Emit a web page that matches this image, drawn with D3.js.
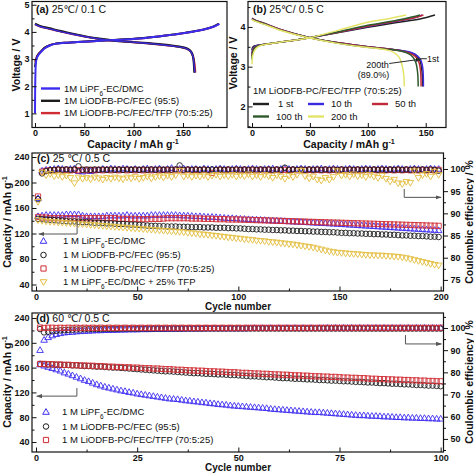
<!DOCTYPE html>
<html>
<head>
<meta charset="utf-8">
<script src="https://cdn.jsdelivr.net/npm/d3@7"></script>
<style>
  body { margin: 0; background: #fff; }
  svg text { font-family: Arial, "Liberation Sans", "DejaVu Sans", sans-serif; fill: #111; }
</style>
</head>
<body>
<svg id="fig" width="474" height="474"></svg>
<script>
// ---------- (a) 25 ℃ / 0.1 C, first cycle : [capacity, voltage]
const aLiPF6Charge = [[0,1.0],[0.4,2.4],[1,2.9],[2,3.05],[4,3.18],[7,3.3],[10,3.4],[15,3.5],[20,3.56],[30,3.6],[40,3.62],[50,3.64],[65,3.67],[80,3.7],[100,3.74],[115,3.79],[125,3.83],[140,3.9],[150,3.95],[160,4.01],[170,4.08],[180,4.18],[187,4.3]];
const aLiPF6Discharge = [[0,4.28],[5,4.2],[15,4.11],[25,4.02],[35,3.94],[50,3.83],[65,3.74],[80,3.67],[100,3.62],[125,3.54],[140,3.48],[150,3.42],[155,3.36],[158,3.27],[160,3.12],[161,2.88],[162,2.5]];
const aOdfbCharge = [[0,2.7],[1,2.95],[2,3.08],[4,3.2],[7,3.32],[10,3.42],[15,3.51],[20,3.56],[30,3.6],[40,3.62],[50,3.645],[65,3.675],[80,3.705],[100,3.745],[115,3.795],[125,3.835],[140,3.905],[150,3.955],[160,4.015],[170,4.085],[180,4.185],[186,4.3]];
const aOdfbDischarge = [[0,4.3],[5,4.22],[15,4.13],[25,4.04],[35,3.96],[50,3.84],[65,3.75],[80,3.68],[100,3.62],[125,3.55],[140,3.49],[150,3.43],[155,3.37],[158,3.28],[160,3.12],[161,2.85],[161.5,2.5]];
const aTfpCharge = [[0,2.9],[1,3.0],[2,3.1],[4,3.21],[7,3.32],[10,3.42],[15,3.51],[20,3.56],[30,3.6],[40,3.62],[50,3.64],[65,3.67],[80,3.7],[100,3.74],[115,3.79],[125,3.83],[140,3.9],[150,3.95],[160,4.01],[170,4.08],[180,4.18],[186.5,4.3]];
const aTfpDischarge = [[0,4.28],[5,4.2],[15,4.11],[25,4.02],[35,3.94],[50,3.83],[65,3.74],[80,3.67],[100,3.62],[125,3.54],[140,3.48],[150,3.42],[155,3.36],[158,3.27],[160,3.12],[161.5,2.88],[162.5,2.5]];
const aLegend = ['1M LiPF_{6}-EC/DMC', '1M LiODFB-PC/FEC (95:5)', '1M LiODFB-PC/FEC/TFP (70:5:25)'];

// ---------- (b) 25 ℃ / 0.5 C, LiODFB-PC/FEC/TFP
const b1stCharge = [[0,3.42],[0.5,3.48],[2,3.52],[5,3.54],[10,3.56],[25,3.62],[50,3.73],[75,3.86],[100,3.99],[125,4.11],[145,4.2],[158,4.3]];
const b1stDischarge = [[0,4.22],[3,4.17],[10,4.1],[25,3.93],[50,3.73],[75,3.6],[100,3.5],[120,3.44],[130,3.4],[137,3.35],[142,3.27],[145,3.15],[146.5,2.95],[147.5,2.5]];
const b10thCharge = [[0,3.32],[0.5,3.44],[2,3.5],[5,3.54],[10,3.56],[25,3.62],[50,3.73],[75,3.87],[100,4.01],[125,4.14],[140,4.23],[147,4.3]];
const b10thDischarge = [[0,4.2],[3,4.16],[10,4.09],[25,3.93],[50,3.73],[75,3.6],[100,3.5],[120,3.44],[130,3.4],[138,3.35],[143,3.27],[146,3.15],[147.5,2.95],[148,2.5]];
const b50thCharge = [[0,3.26],[0.5,3.4],[2,3.48],[5,3.53],[10,3.56],[25,3.62],[50,3.73],[75,3.87],[100,4.02],[125,4.15],[140,4.23],[148,4.3]];
const b50thDischarge = [[0,4.2],[3,4.16],[10,4.09],[25,3.93],[50,3.73],[75,3.6],[100,3.5],[120,3.44],[130,3.39],[136,3.34],[141,3.26],[144,3.12],[145.5,2.9],[146,2.5]];
const b100thCharge = [[0,3.18],[0.5,3.36],[2,3.46],[5,3.52],[10,3.56],[25,3.62],[50,3.73],[75,3.88],[100,4.04],[125,4.17],[138,4.25],[145,4.3]];
const b100thDischarge = [[0,4.19],[3,4.15],[10,4.08],[25,3.92],[50,3.73],[75,3.59],[100,3.49],[120,3.43],[130,3.38],[135,3.33],[139,3.24],[141.5,3.1],[143,2.85],[143.5,2.5]];
const b200thCharge = [[0,3.06],[0.5,3.25],[2,3.4],[5,3.5],[10,3.55],[25,3.62],[50,3.73],[75,3.92],[100,4.12],[120,4.22],[133,4.3]];
const b200thDischarge = [[0,4.18],[3,4.14],[10,4.07],[25,3.91],[50,3.72],[75,3.58],[95,3.5],[110,3.45],[118,3.41],[123,3.35],[127,3.24],[129.5,3.05],[131,2.8],[131.5,2.5]];
const bCycleLabels = ['1 st', '10 th', '50 th', '100 th', '200 th'];

// ---------- (c) 25 ℃ / 0.5 C cycling, every second cycle (1, 3, ... 199)
const cCycles = d3.range(1, 200, 2);
const cCapLiPF6 = [147,148,149,149,149,149,149,150,150,150, 150,148,147,147,147,147,147,148,148,148, 148,148,149,148,148,148,148,148,149,149, 149,149,149,149,149,148.5,148,148,147.5,147, 147,146.5,146,146,145.5,145,144.5,144,144,143.5, 143,142.7,142.3,142,141.7,141.3,141,140.7,140.3,140, 139.7,139.3,139,138.7,138.3,138,137.7,137.3,137,136.7, 136.3,136,135.7,135.3,135,134.6,134.2,133.8,133.4,133, 132.6,132.2,131.8,131.4,131,130.6,130.2,129.8,129.4,129, 128.6,128.2,127.8,127.4,127,126.6,126.2,125.8,125.4,125];
const cCapOdfb = [143,142.5,142,141.5,141,140.5,140,139.5,139,139, 138.5,138,138,137.5,137,137,136.5,136,136,135.5, 135,135,134.5,134,134,133.5,133,132.5,132,132, 131.5,131.5,131,131,131,130.5,130.5,130.5,130,130, 130,129.5,129.5,129.5,129,129,129,128.5,128.5,128, 128,127.5,127,127,126.5,126.5,126,126,125.5,125.5, 125,125,124.5,124.5,124,124,123.5,123.5,123,123, 122.5,122.5,122,122,121.5,121,121,120.5,120.5,120, 120,119.5,119.5,119,119,118.5,118.5,118,118,117.5, 117,117,116.5,116.5,116,116,115.5,115,115,114.5];
const cCapTfp = [146,145,145,144,144,144,144,144,144,144, 144,144,144,144,144,144,144,144,144,144, 143,143,143,143,143,142.5,142.5,142.5,143,143, 143,143.5,144,144,144,144,144,144,143.5,143.5, 143.5,143,143,143,142.5,142.5,142.5,142,142,142, 141.8,141.6,141.4,141.2,141,140.8,140.6,140.4,140.2,140, 139.8,139.6,139.4,139.2,139,138.8,138.6,138.4,138.2,138, 137.8,137.6,137.4,137.2,137,136.8,136.6,136.4,136.2,136, 135.8,135.6,135.4,135.2,135,134.8,134.6,134.4,134.2,134, 133.8,133.6,133.4,133.2,133,132.8,132.6,132.4,132.2,132];
const cCapLiPF6Tfp = [141,140,139,138.5,138,137.5,137,136.5,136,135.5, 135,134.5,134,133.5,133,132.5,132,131.5,131,130.5, 130,129.5,129,128.5,128,127.5,127,126.5,126,125.5, 125,124.5,124,123.5,123,122.5,122,121,120.5,120, 119,118.5,118,117,116.5,115.5,115,114,113.5,112.5, 112,111,110.5,110,109,108.5,108,107,106.5,106, 105,104.5,103.5,103,102,101,100,99,98,96.5, 95,93.5,92,91,90,89.5,89,88.5,88,87.5, 87,86.5,86,86,85.5,85.5,85,84.5,84,83.5, 82.5,81.5,80,78.5,77,75.5,74,72.5,71,70];
const cCeLiPF6 = [93.4,99.6,99.8,99.9,100,100.1,100,99.9,100,100.1, 99.5,99.4,99.6,99.5,99.7,99.8,100,99.9,100.1,100, 99.9,100.1,100,99.9,100,99.8,100,100.1,99.9,100, 100.1,99.9,100,100.2,99.9,100,100.1,99.9,100,100, 99.9,100.1,100,99.9,100,100.1,100,99.9,100,100.1, 100,99.9,100,100.1,100,99.9,100,100,100.1,99.9, 100,100.1,100,99.9,100,100.1,100,99.9,100,100, 100.1,99.9,100,100.1,100,99.9,100,100.1,100,99.9, 100,100.1,100,99.9,100,100.1,100,99.9,100,100.1, 100,99.9,100,100.1,100,99.9,100,100.1,100,100];
const cCeOdfb = [93.2,99,99.5,99.7,99.8,99.9,99.8,99.9,99.8,99.9, 100.6,99.8,99.9,99.8,99.9,99.8,99.9,99.8,99.9,99.8, 99.9,99.8,99.9,99.8,99.9,99.8,99.9,99.8,99.9,99.8, 99.9,99.8,99.9,99.8,99.9,100.8,99.8,99.9,99.8,99.9, 99.8,99.9,99.8,99.9,99.8,99.9,99.8,99.9,99.8,99.9, 99.8,99.9,99.8,99.9,99.8,99.9,99.8,99.9,99.8,99.9, 99.8,100.3,99.8,99.9,99.8,99.9,99.8,99.9,99.8,99.9, 99.8,99.9,99.8,99.9,99.8,99.9,99.8,99.9,99.8,99.9, 99.8,99.9,99.8,99.9,99.8,99.9,99.8,99.9,99.8,99.9, 99.8,99.9,99.8,99.9,99.8,99.9,99.8,99.9,99.8,99.6];
const cCeTfp = [93.8,99.4,99.6,99.7,99.7,99.8,99.7,99.8,99.7,99.8, 99.7,99.8,99.7,99.8,99.7,99.8,99.7,99.8,99.7,99.8, 99.7,99.8,99.7,99.8,99.7,99.8,99.7,99.8,99.7,99.8, 99.7,99.8,99.7,99.8,99.7,99.8,99.7,99.8,99.7,99.8, 99.7,99.8,99.7,99.1,99.7,99.8,99.7,99.8,99.7,99.8, 99.7,99.8,99.7,99.8,99.7,99.8,99.7,99.8,99.7,99.8, 99.7,99.8,99.7,99.8,99.7,99.8,99.7,99.8,99.7,99.8, 99.7,99.8,99.7,99.8,99.7,99.8,99.7,99.8,99.7,99.8, 99.7,99.8,99.7,99.8,99.7,99.8,99.7,99.8,99.7,99.8, 99.7,99.8,99.7,99.8,99.7,99.8,99.7,99.8,99.7,99.8];
const cCeLiPF6Tfp = [92.6,99.2,98.6,98.9,98.4,98.6,98.2,98.5,98,96.8, 98.1,97.8,98,97.7,98.1,97.9,97.6,98,97.8,98.1, 97.9,97.7,98.1,97.9,98.2,97.8,98,98.3,97.9,98.2, 98.4,98.1,98.5,98.2,98.6,99.6,98.3,98.6,98.2,98.5, 98.3,98.6,98.2,98.5,98.7,98.3,98.6,98.4,98.7,98.3, 98.6,98.4,98.8,98.3,98.6,98.2,98.7,98.4,98,98.6, 98.3,97.8,98.5,98.2,98.7,99.6,98.4,97.9,98.3,97.6, 97.4,98,97.6,98.2,99.5,98.5,98.7,98.3,98.8,98.4, 98.6,98.2,98.7,98.3,98,98.5,97.8,97.2,97.6,96.8, 96.6,97.1,96.9,99.5,98,98.6,98.9,98.3,99.4,98.7];
const cLegend = ['1 M LiPF_{6}-EC/DMC', '1 M LiODFB-PC/FEC (95:5)', '1 M LiODFB-PC/FEC/TFP (70:5:25)', '1 M LiPF_{6}-EC/DMC + 25% TFP'];

// ---------- (d) 60 ℃ / 0.5 C cycling, cycles 1 ... 100
const dCycles = d3.range(1, 101);
const dCapLiPF6 = [165,163,161,159,157,155,152,150,147.5,145, 142.5,140,138,135.5,133,131,129,127.5,126,124.5, 123,122,120.5,119.5,118,117,116,115,114,113, 112,111,110,109.5,109,108,107,106.5,105.5,105, 104,103.5,102.5,102,101,100.5,100,99,98.5,98, 97.5,97,96.5,96,95.5,95,94.5,93.5,93,92.5, 92,91.5,91,90.5,90,89.5,89,88.5,88,88, 87.5,87,86.5,86,85.5,85,84.5,84,83.5,83, 83,82.5,82,82,81.5,81,81,80.5,80,80, 79.5,79.5,79,79,78.5,78.5,78,78,77.5,77.5];
const dCapOdfb = [166,165.5,165,165,164.5,164.5,164,164,163.5,163.5, 163,162.5,162.5,162,161.5,161.5,161,160.5,160,160, 159.5,159,158.5,158,157.5,157,156.5,156,155.5,155, 154.5,154,154,153.5,153,152.5,152,151.5,151,151, 150.5,150,150,149.5,149,149,148.5,148,148,147.5, 147,146.5,146,146,145.5,145,144.5,144.5,144,143.5, 143,143,142.5,142,142,141.5,141,141,140.5,140, 140,139.5,139,139,138.5,138,138,137.5,137,137, 136.5,136,136,135.5,135,135,134.5,134,134,133.5, 133,133,132.5,132,132,131.5,131,131,130.5,130];
const dCapTfp = [166,166,165.5,165.5,165,165,164.5,164.5,164,164, 163.5,163.5,163,163,162.5,162.5,162,161.5,161.5,161, 161,160.5,160.5,160,160,159.5,159,159,158.5,158.5, 158,157.5,157.5,157,156.5,156.5,156,155.5,155.5,155, 155,154.5,154,154,153.5,153.5,153,152.5,152.5,152, 151.5,151.5,151,150.5,150.5,150,150,149.5,149,149, 148.5,148.5,148,147.5,147.5,147,147,146.5,146,146, 145.5,145.5,145,145,144.5,144,144,143.5,143.5,143, 143,142.5,142,142,141.5,141.5,141,141,140.5,140.5, 140,140,139.5,139.5,139,139,138.5,138.5,138,138];
const dCeLiPF6 = [90,94.6,95.8,96.6,97.2,97.6,97.9,98.1,98.2,98.4, 98.5,98.6,98.7,98.8,98.9,98.9,99,99,99.1,99.1, 99.2,99.2,99.3,99.3,99.3,99.4,99.4,99.4,99.5,99.5, 99.5,99.5,99.6,99.6,99.6,99.6,99.7,99.7,99.7,99.7, 99.7,99.8,99.8,99.8,99.8,99.8,99.8,99.8,99.8,99.8, 99.8,99.8,99.9,99.9,99.9,99.9,99.9,99.9,99.9,99.9, 99.9,99.9,99.9,99.9,99.9,99.9,99.9,99.9,99.9,99.9, 100,100,100,100,100,100,100,100,100,100, 100,100,100,100,100,100,100,100,100,100, 100,100,100,100,100,100,100,100,100,100];
const dCeOdfb = [99.5,98,98.3,98.5,98.7,98.9,99,99.1,99.2,99.3, 99.3,99.4,99.4,99.5,99.5,99.5,99.6,99.6,99.6,99.6, 99.7,99.7,99.7,99.7,99.7,99.7,99.7,99.7,99.7,99.7, 99.7,99.7,99.7,99.7,99.7,99.7,99.7,99.7,99.7,99.7, 99.7,99.7,99.7,99.7,99.7,99.7,99.7,99.7,99.7,99.7, 99.7,99.7,99.7,99.7,99.7,99.7,99.7,99.7,99.7,99.7, 99.7,99.7,99.7,99.7,99.7,99.7,99.7,99.7,99.7,99.7, 99.7,99.7,99.7,99.7,99.7,99.7,99.7,99.7,99.7,99.7, 99.7,99.7,99.7,99.7,99.7,99.7,99.7,99.7,99.7,99.7, 99.7,99.7,99.7,99.7,99.7,99.7,99.7,99.7,99.7,99.7];
const dCeTfp = [100.2,100,100.1,100.1,100,100.1,100,100.1,100,100.1, 100,100.1,100,100.1,100,100.1,100,100.1,100,100.1, 100,100.1,100,100.1,100,100.1,100,100.1,100,100.1, 100,100.1,100,100.1,100,100.1,100,100.1,100,100.1, 100,100.1,100,100.1,100,100.1,100,100.1,100,100.1, 100,100.1,100,100.1,100,100.1,100,100.1,100,100.1, 100,100.1,100,100.1,100,100.1,100,100.1,100,100.1, 100,100.1,100,100.1,100,100.1,100,100.1,100,100.1, 100,100.1,100,100.1,100,100.1,100,100.1,100,100.1, 100,100.1,100,100.1,100,100.1,100,100.1,100,100.1];
const dLegend = ['1 M LiPF_{6}-EC/DMC', '1 M LiODFB-PC/FEC (95:5)', '1 M LiODFB-PC/FEC/TFP (70:5:25)'];

// ---------- drawing
const FONT = 'Arial, "Liberation Sans", "DejaVu Sans", sans-serif';
const svg = d3.select('#fig');
const defs = svg.append('defs');

const BLUE = '#3d2df0', BLACK = '#1c1c1c', RED = '#d02c34', GOLD = '#e3bd3e';

['#2a2a2a', '#555'].forEach((c, i) => {
  defs.append('marker').attr('id', 'arrow' + i)
    .attr('viewBox', '0 0 10 10').attr('refX', 9).attr('refY', 5)
    .attr('markerWidth', 6).attr('markerHeight', 6).attr('orient', 'auto')
    .append('path').attr('d', 'M0,1.5L10,5L0,8.5Z').attr('fill', c);
});

// text with _{sub} / ^{sup}
function richText(sel, str) {
  str.split(/([_^]\{[^}]*\})/).forEach(part => {
    if (!part) return;
    const m = part.match(/^([_^])\{(.*)\}$/);
    if (m) {
      sel.append('tspan')
        .attr('baseline-shift', m[1] === '_' ? 'sub' : 'super')
        .style('font-size', '0.68em')
        .text(m[2]);
    } else {
      sel.append('tspan').text(part);
    }
  });
  return sel;
}

function addText(g, x, y, str, size, opts = {}) {
  const t = g.append('text')
    .attr('x', x).attr('y', y)
    .attr('font-size', size)
    .attr('font-weight', opts.bold ? 'bold' : 'normal')
    .attr('text-anchor', opts.anchor || 'start');
  if (opts.rotate) t.attr('transform', `rotate(${opts.rotate},${x},${y})`);
  return richText(t, str);
}

function makePanel(o) {
  const x = d3.scaleLinear().domain(o.xDomain).range([o.left, o.right]);
  const y = d3.scaleLinear().domain(o.yDomain).range([o.bottom, o.top]);
  const g = svg.append('g');
  defs.append('clipPath').attr('id', 'clip-' + o.id).append('rect')
    .attr('x', o.left).attr('y', o.top)
    .attr('width', o.right - o.left).attr('height', o.bottom - o.top);
  const plot = g.append('g').attr('clip-path', `url(#clip-${o.id})`);
  return { g, plot, x, y, o };
}

function tickGroup(g, axis, tr, size, values, labelled) {
  const s = g.append('g').attr('transform', tr)
    .call(axis.tickValues(values).tickSize(size).tickPadding(2.5)
      .tickFormat(labelled ? (d => d) : (() => '')));
  s.select('.domain').remove();
  s.selectAll('line').attr('stroke', '#111').attr('stroke-width', 1);
  s.selectAll('text')
    .attr('font-family', FONT).attr('font-size', 9)
    .attr('font-weight', 'bold').attr('fill', '#111');
  return s;
}

function drawAxes(p, t) {
  const { g, x, y, o } = p;
  tickGroup(g, d3.axisBottom(x), `translate(0,${o.bottom})`, -2.5, t.xMinor, false);
  tickGroup(g, d3.axisBottom(x), `translate(0,${o.bottom})`, -4.5, t.xTicks, true);
  tickGroup(g, d3.axisLeft(y), `translate(${o.left},0)`, -2.5, t.yMinor, false);
  tickGroup(g, d3.axisLeft(y), `translate(${o.left},0)`, -4.5, t.yTicks, true);
  g.append('rect')
    .attr('x', o.left).attr('y', o.top)
    .attr('width', o.right - o.left).attr('height', o.bottom - o.top)
    .attr('fill', 'none').attr('stroke', '#111').attr('stroke-width', 1.2);
}

function curve(p, pts, color, w) {
  const line = d3.line().x(d => p.x(d[0])).y(d => p.y(d[1]))
    .curve(d3.curveCatmullRom.alpha(0.5));
  p.plot.append('path').datum(pts)
    .attr('d', line).attr('fill', 'none')
    .attr('stroke', color).attr('stroke-width', w)
    .attr('stroke-linejoin', 'round');
}

const SHAPES = {
  up: 'M0,-3.4L3.3,2.3L-3.3,2.3Z',
  down: 'M0,3.4L3.3,-2.3L-3.3,-2.3Z',
  circle: d3.symbol(d3.symbolCircle, 24)(),
  square: 'M-2.6,-2.6H2.6V2.6H-2.6Z'
};

function scatter(p, yScale, cycles, values, shape, color) {
  p.plot.append('g').selectAll('path')
    .data(values)
    .join('path')
    .attr('d', SHAPES[shape])
    .attr('transform', (v, i) => `translate(${p.x(cycles[i])},${yScale(v)})`)
    .attr('fill', 'none').attr('stroke', color).attr('stroke-width', 0.9);
}

function arrowPath(g, pts, xs, ys, id, color) {
  g.append('path')
    .datum(pts)
    .attr('d', d3.line().x(d => xs(d[0])).y(d => ys(d[1])))
    .attr('fill', 'none').attr('stroke', color).attr('stroke-width', 1)
    .attr('marker-end', `url(#${id})`);
}

// ================= (a)
const pa = makePanel({ id: 'a', left: 32, right: 227, top: 1.5, bottom: 127.5,
  xDomain: [-3.04, 194.6], yDomain: [0.48, 5.12] });
curve(pa, aTfpCharge, RED, 2);
curve(pa, aTfpDischarge, RED, 2);
curve(pa, aOdfbCharge, BLACK, 2);
curve(pa, aOdfbDischarge, BLACK, 2.2);
curve(pa, aLiPF6Charge, BLUE, 2);
curve(pa, aLiPF6Discharge, '#3a2ad8', 1.4);
drawAxes(pa, { xTicks: [0, 50, 100, 150], xMinor: [25, 75, 125, 175],
  yTicks: [1, 2, 3, 4, 5], yMinor: [1.5, 2.5, 3.5, 4.5] });
[BLUE, BLACK, RED].forEach((c, i) => {
  const yy = 88.5 + i * 12.3;
  pa.g.append('line').attr('x1', 41).attr('x2', 60).attr('y1', yy).attr('y2', yy)
    .attr('stroke', c).attr('stroke-width', 2.4);
  addText(pa.g, 64, yy + 3.3, aLegend[i], 9.5);
});
{
  const t = pa.g.append('text').attr('x', 36).attr('y', 13).attr('font-size', 10.5);
  t.append('tspan').attr('font-weight', 'bold').text('(a) ');
  t.append('tspan').text('25\u2103/ 0.1 C');
}
addText(pa.g, 20, 65, 'Voltage / V', 10.5, { bold: true, anchor: 'middle', rotate: -90 });
addText(pa.g, 133, 148, 'Capacity / mAh g^{-1}', 10.5, { bold: true, anchor: 'middle' });

// ================= (b)
const pb = makePanel({ id: 'b', left: 248, right: 446, top: 1.5, bottom: 127.5,
  xDomain: [-3.45, 167.5], yDomain: [1.47, 4.64] });
const bColors = ['#222', '#3b2be0', '#c02a3a', '#2e5a2c', '#e4e46a'];
[[b1stCharge, b1stDischarge], [b10thCharge, b10thDischarge], [b50thCharge, b50thDischarge],
 [b100thCharge, b100thDischarge], [b200thCharge, b200thDischarge]].forEach((pair, i) => {
  curve(pb, pair[0], bColors[i], 1.5);
  curve(pb, pair[1], bColors[i], 1.5);
});
drawAxes(pb, { xTicks: [0, 50, 100, 150], xMinor: [25, 75, 125],
  yTicks: [2, 3, 4], yMinor: [1.5, 2.5, 3.5, 4.5] });
{
  const t = pb.g.append('text').attr('x', 253).attr('y', 12.5).attr('font-size', 10.5);
  t.append('tspan').attr('font-weight', 'bold').text('(b) ');
  t.append('tspan').text('25\u2103/ 0.5 C');
}
addText(pb.g, 253, 94, '1M LiODFB-PC/FEC/TFP (70:5:25)', 9.5);
const bLegPos = [[253, 104], [308, 104], [372, 104], [253, 116.5], [308, 116.5]];
bLegPos.forEach((pos, i) => {
  pb.g.append('line').attr('x1', pos[0]).attr('x2', pos[0] + 16).attr('y1', pos[1]).attr('y2', pos[1])
    .attr('stroke', bColors[i]).attr('stroke-width', 2.4);
  addText(pb.g, pos[0] + (i === 0 ? 25 : 23), pos[1] + 3.3, bCycleLabels[i], 9.5);
});
// 1st / 200th annotation
pb.g.append('line')
  .attr('x1', pb.x(151)).attr('y1', pb.y(3.2)).attr('x2', pb.x(145.5)).attr('y2', pb.y(3.2))
  .attr('stroke', '#2a2a2a').attr('stroke-width', 1);
addText(pb.g, pb.x(151.2), pb.y(3.2) + 3.2, '1st', 9);
arrowPath(pb.g, [[118.5, 3.08], [146, 3.19]], pb.x, pb.y, 'arrow0', '#2a2a2a');
addText(pb.g, pb.x(118), pb.y(3.06) + 3.2, '200th', 9, { anchor: 'end' });
addText(pb.g, pb.x(118.5), pb.y(2.8) + 3.2, '(89.0%)', 9, { anchor: 'end' });
addText(pb.g, 237, 63, 'Voltage / V', 10.5, { bold: true, anchor: 'middle', rotate: -90 });
addText(pb.g, 349, 148, 'Capacity / mAh g^{-1}', 10.5, { bold: true, anchor: 'middle' });

// ================= (c)
const pc = makePanel({ id: 'c', left: 32, right: 443.5, top: 153, bottom: 291,
  xDomain: [-1.98, 201.4], yDomain: [29.8, 246.3] });
const pcR = d3.scaleLinear().domain([72.5, 103.6]).range([291, 153]);
scatter(pc, pcR, cCycles, cCeLiPF6, 'up', BLUE);
scatter(pc, pcR, cCycles, cCeTfp, 'square', RED);
scatter(pc, pcR, cCycles, cCeOdfb, 'circle', BLACK);
scatter(pc, pcR, cCycles, cCeLiPF6Tfp, 'down', GOLD);
scatter(pc, pc.y, cCycles, cCapLiPF6, 'up', BLUE);
scatter(pc, pc.y, cCycles, cCapTfp, 'square', RED);
scatter(pc, pc.y, cCycles, cCapOdfb, 'circle', BLACK);
scatter(pc, pc.y, cCycles, cCapLiPF6Tfp, 'down', GOLD);
drawAxes(pc, { xTicks: [0, 50, 100, 150, 200], xMinor: [25, 75, 125, 175],
  yTicks: [40, 80, 120, 160, 200, 240], yMinor: [60, 100, 140, 180, 220] });
tickGroup(pc.g, d3.axisRight(pcR), 'translate(443.5,0)', 2.5, [77.5, 82.5, 87.5, 92.5, 97.5, 102.5], false);
tickGroup(pc.g, d3.axisRight(pcR), 'translate(443.5,0)', 4.5, [75, 80, 85, 90, 95, 100], true);
arrowPath(pc.g, [[20.3, 139.6], [20.3, 119.2], [1.4, 119.2]], pc.x, pc.y, 'arrow1', '#555');
arrowPath(pc.g, [[182, 95.5], [182, 93.6], [200.2, 93.6]], pc.x, pcR, 'arrow1', '#555');
const cShapes = ['up', 'circle', 'square', 'down'];
const cColors = [BLUE, BLACK, RED, GOLD];
[241, 255, 268.5, 282].forEach((yy, i) => {
  pc.g.append('path').attr('d', SHAPES[cShapes[i]]).attr('transform', `translate(43.5,${yy})`)
    .attr('fill', 'none').attr('stroke', cColors[i]).attr('stroke-width', 1);
  addText(pc.g, 63, yy + 3.3, cLegend[i], 9.5);
});
{
  const t = pc.g.append('text').attr('x', 37).attr('y', 161.5).attr('font-size', 10.5);
  t.append('tspan').attr('font-weight', 'bold').text('(c) ');
  t.append('tspan').text('25 \u2103/ 0.5 C');
}
addText(pc.g, 11, 222, 'Capacity / mAh g^{-1}', 10.5, { bold: true, anchor: 'middle', rotate: -90 });
addText(pc.g, 472.5, 222, 'Coulombic efficiency / %', 10.5, { bold: true, anchor: 'middle', rotate: -90 });
addText(pc.g, 238, 309.5, 'Cycle number', 10, { bold: true, anchor: 'middle' });

// ================= (d)
const pd = makePanel({ id: 'd', left: 32, right: 443.5, top: 313, bottom: 452,
  xDomain: [-0.99, 100.7], yDomain: [23.9, 248.1] });
const pdR = d3.scaleLinear().domain([44.1, 106.75]).range([452, 313]);
scatter(pd, pdR, dCycles, dCeLiPF6, 'up', BLUE);
scatter(pd, pdR, dCycles, dCeOdfb, 'circle', BLACK);
scatter(pd, pdR, dCycles, dCeTfp, 'square', RED);
scatter(pd, pd.y, dCycles, dCapLiPF6, 'up', BLUE);
scatter(pd, pd.y, dCycles, dCapOdfb, 'circle', BLACK);
scatter(pd, pd.y, dCycles, dCapTfp, 'square', RED);
drawAxes(pd, { xTicks: [0, 25, 50, 75, 100], xMinor: [12.5, 37.5, 62.5, 87.5],
  yTicks: [40, 80, 120, 160, 200, 240], yMinor: [60, 100, 140, 180, 220] });
tickGroup(pd.g, d3.axisRight(pdR), 'translate(443.5,0)', 2.5, [45, 55, 65, 75, 85, 95, 105], false);
tickGroup(pd.g, d3.axisRight(pdR), 'translate(443.5,0)', 4.5, [50, 60, 70, 80, 90, 100], true);
arrowPath(pd.g, [[10.1, 127], [10.1, 114], [0.2, 114]], pd.x, pd.y, 'arrow1', '#555');
arrowPath(pd.g, [[91.3, 96.8], [91.3, 92.8], [100.2, 92.8]], pd.x, pdR, 'arrow1', '#555');
[412, 426.5, 440].forEach((yy, i) => {
  pd.g.append('path').attr('d', SHAPES[cShapes[i]]).attr('transform', `translate(46,${yy})`)
    .attr('fill', 'none').attr('stroke', cColors[i]).attr('stroke-width', 1);
  addText(pd.g, 62, yy + 3.3, dLegend[i], 9.5);
});
{
  const t = pd.g.append('text').attr('x', 36).attr('y', 321.5).attr('font-size', 10.5);
  t.append('tspan').attr('font-weight', 'bold').text('(d) ');
  t.append('tspan').text('60 \u2103/ 0.5 C');
}
addText(pd.g, 11, 382, 'Capacity / mAh g^{-1}', 10.5, { bold: true, anchor: 'middle', rotate: -90 });
addText(pd.g, 472.5, 382, 'Coulombic efficiency / %', 10.5, { bold: true, anchor: 'middle', rotate: -90 });
addText(pd.g, 238, 470.5, 'Cycle number', 10, { bold: true, anchor: 'middle' });
</script>
</body>
</html>
